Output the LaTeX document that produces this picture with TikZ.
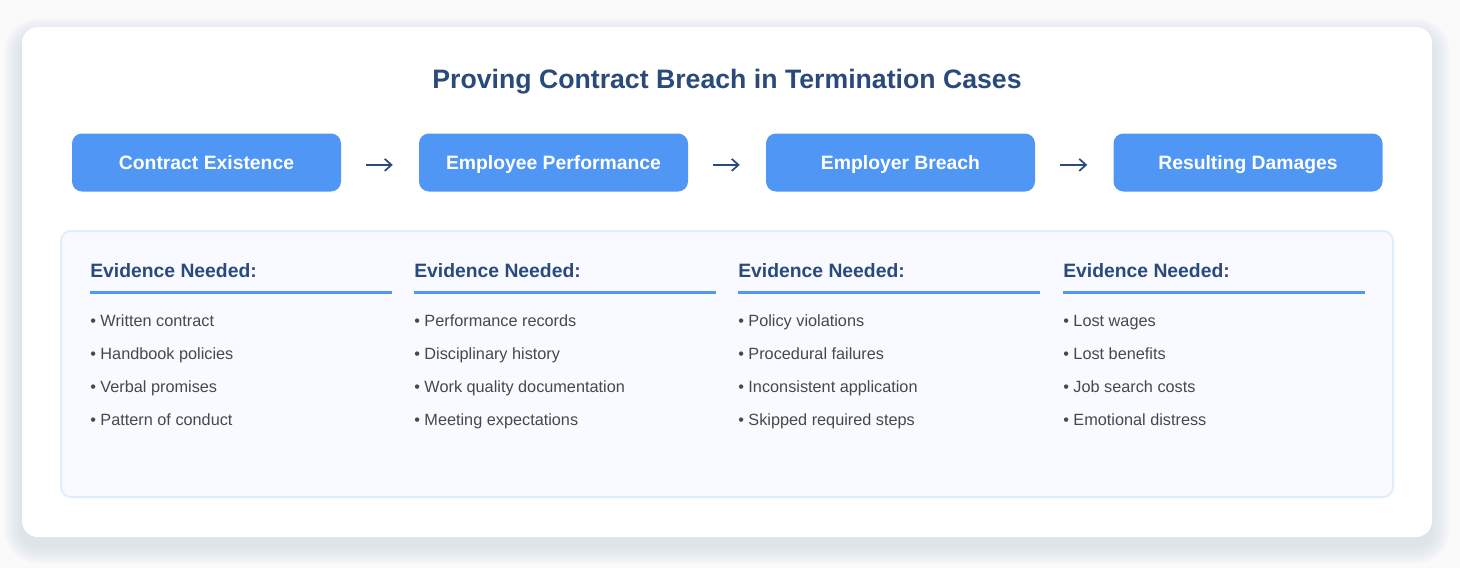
\documentclass[tikz,border=0pt]{standalone}
\usepackage{fontspec}
\setmainfont{Liberation Sans}
\usetikzlibrary{arrows.meta,positioning}

\definecolor{stepblue}{RGB}{80,150,245}
\definecolor{titleblue}{RGB}{43,74,124}
\definecolor{bodygray}{RGB}{72,72,72}
\definecolor{panelfill}{RGB}{248,250,255}
\definecolor{panelline}{RGB}{226,237,251}
\definecolor{pagebg}{RGB}{250,250,251}
\definecolor{shadowtint}{RGB}{105,115,130}

\tikzset{
    stepbox/.style={fill=stepblue, rounded corners=7.5pt, minimum width=201.75pt,
        minimum height=43.5pt, text=white, text height=10.4pt, text depth=0pt,
        font=\bfseries\fontsize{14.5}{17}\selectfont},
    flow/.style={-{Straight Barb[length=5pt,width=9pt,line width=1.3pt]}, line width=1.4pt,
        draw=titleblue, shorten <=18.75pt, shorten >=19.5pt},
    evhead/.style={anchor=base west, inner sep=0pt, text=titleblue,
        font=\bfseries\fontsize{14.5}{17}\selectfont},
    evitem/.style={anchor=base west, inner sep=0pt, text=bodygray,
        font=\fontsize{12.2}{15}\selectfont},
    evrule/.style={draw=stepblue, line width=2.25pt},
}

\begin{document}
\begin{tikzpicture}[x=0.75pt,y=-0.75pt]

    % page and card
    \fill[pagebg] (0,0) rectangle (1460,568);
    \useasboundingbox (0,0) rectangle (1460,568);
    \foreach \s in {1,...,18}
        \fill[shadowtint, opacity=0.009, rounded corners={(12+0.75*\s)*1pt}]
            (22-\s,27-\s+9) rectangle (1432+\s,537+\s+9);
    \fill[white, rounded corners=12pt] (22,27) rectangle (1432,537);

    % title
    \node[anchor=base, text=titleblue, font=\bfseries\fontsize{20}{24}\selectfont] (title)
        at (727,88.5) {Proving Contract Breach in Termination Cases};

    % steps
    \node[stepbox] (exist) at (206.5,162.5) {Contract Existence};
    \node[stepbox] (perf) at (553.5,162.5) {Employee Performance};
    \node[stepbox] (breach) at (900.5,162.5) {Employer Breach};
    \node[stepbox] (damages) at (1248,162.5) {Resulting Damages};

    \draw[flow] ([yshift=-1.8pt]exist.east) -- ([yshift=-1.8pt]perf.west);
    \draw[flow] ([yshift=-1.8pt]perf.east) -- ([yshift=-1.8pt]breach.west);
    \draw[flow] ([yshift=-1.8pt]breach.east) -- ([yshift=-1.8pt]damages.west);

    % evidence panel
    \draw[fill=panelfill, draw=panelline, line width=1.5pt, rounded corners=7.5pt]
        (61,231) rectangle (1393,497);

    \foreach \x/\n/\a/\b/\c/\d in {
        90/1/Written contract/Handbook policies/Verbal promises/Pattern of conduct,
        414/2/Performance records/Disciplinary history/Work quality documentation/Meeting expectations,
        738/3/Policy violations/Procedural failures/Inconsistent application/Skipped required steps,
        1063/4/Lost wages/Lost benefits/Job search costs/Emotional distress}{
        \node[evhead] (head\n) at (\x,277.5) {Evidence Needed:};
        \draw[evrule] (\x,292) -- ++(302,0);
        \foreach \t [count=\i] in {\a,\b,\c,\d}
            \node[evitem] (item\n-\i) at (\x,{326+33.3*(\i-1)}) {• \t};
    }

\end{tikzpicture}
\end{document}
